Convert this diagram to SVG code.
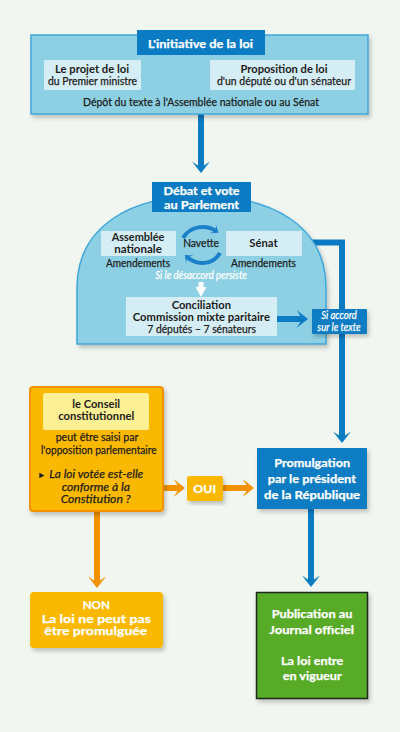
<svg xmlns="http://www.w3.org/2000/svg" width="400" height="732" viewBox="0 0 400 732">
<style>
text{font-family:Lato,"Noto Sans","Liberation Sans",sans-serif;text-anchor:middle;fill:#1d1d1b;font-size:11px;stroke:#1d1d1b;stroke-width:0.25}
.b{font-weight:bold;stroke:none}
.w{fill:#fff;stroke:#fff}
.i{font-style:italic}
.dk{fill:#0b7bc3}
.lt{fill:#d5edf5}
.sky{fill:#8dd0e3;stroke:#41a7da;stroke-width:1.5}
.gold{fill:#fbb800}
.bl{fill:none;stroke:#0b7bc3;stroke-width:6}
.or{fill:none;stroke:#f39200;stroke-width:6}
.nv{fill:none;stroke:#1a80c8;stroke-width:4}
</style>
<defs>
<filter id="sh" x="-10%" y="-10%" width="130%" height="130%">
<feDropShadow dx="2" dy="3" stdDeviation="2" flood-color="#000" flood-opacity="0.22"/>
</filter>
<marker id="ab" markerUnits="userSpaceOnUse" viewBox="-12 -10 13 20" markerWidth="13" markerHeight="20" refX="-7" refY="0" orient="auto">
<polygon points="0,0 -11.5,-9 -7.5,-3 -7.5,3 -11.5,9" fill="#0b7bc3"/>
</marker>
<marker id="ao" markerUnits="userSpaceOnUse" viewBox="-12 -10 13 20" markerWidth="13" markerHeight="20" refX="-7" refY="0" orient="auto">
<polygon points="0,0 -11.5,-9 -7.5,-3 -7.5,3 -11.5,9" fill="#f39200"/>
</marker>
<marker id="an" markerUnits="userSpaceOnUse" viewBox="-8 -6 9 12" markerWidth="9" markerHeight="12" refX="-3" refY="0" orient="auto">
<polygon points="0,0 -7,-5.5 -4.5,-2 -4.5,2 -7,5.5" fill="#1a80c8"/>
</marker>
</defs>
<rect width="400" height="732" fill="#f1f7f0"/>

<g id="connectors">
<path class="bl" d="M201 114 V166" marker-end="url(#ab)"/>
<path class="bl" d="M302 242.5 H342 V436" marker-end="url(#ab)"/>
<path class="bl" d="M311 509 V580" marker-end="url(#ab)"/>
<path class="or" d="M163 488 H178" marker-end="url(#ao)"/>
<path class="or" d="M223 488 H247" marker-end="url(#ao)"/>
<path class="or" d="M97 511 V581" marker-end="url(#ao)"/>
</g>

<g id="initiative">
<rect class="sky" x="31" y="35" width="337" height="79" filter="url(#sh)"/>
<rect class="dk" x="137" y="30" width="128" height="25"/>
<text class="w b" x="200.5" y="48" font-size="13" textLength="105" lengthAdjust="spacingAndGlyphs">L'initiative de la loi</text>
<rect class="lt" x="44" y="60" width="97" height="30" rx="1"/>
<text class="b" x="92" y="73" font-size="11.5" textLength="74" lengthAdjust="spacingAndGlyphs">Le projet de loi</text>
<text x="92.5" y="85" font-size="10.8" textLength="89" lengthAdjust="spacingAndGlyphs">du Premier ministre</text>
<rect class="lt" x="210" y="60" width="145" height="30" rx="1"/>
<text class="b" x="284" y="73" font-size="11.5" textLength="87" lengthAdjust="spacingAndGlyphs">Proposition de loi</text>
<text x="284" y="85" font-size="10.8" textLength="134" lengthAdjust="spacingAndGlyphs">d'un député ou d'un sénateur</text>
<text x="201" y="106" font-size="10.8" textLength="236" lengthAdjust="spacingAndGlyphs">Dépôt du texte à l'Assemblée nationale ou au Sénat</text>
</g>

<g id="parlement">
<path class="sky" d="M77 344 V288 C77 228 128 196 201.5 196 C275 196 326 228 326 288 V344 Z" filter="url(#sh)"/>
<rect class="dk" x="152" y="182" width="99" height="30"/>
<text class="w b" x="201.5" y="195" font-size="12.5" textLength="76" lengthAdjust="spacingAndGlyphs">Débat et vote</text>
<text class="w b" x="201.5" y="209" font-size="12.5" textLength="75" lengthAdjust="spacingAndGlyphs">au Parlement</text>
</g>

<g id="assemblee">
<rect class="lt" x="101" y="231" width="75" height="25"/>
<text class="b" x="138" y="240.5" font-size="11.3" textLength="52.6" lengthAdjust="spacingAndGlyphs">Assemblée</text>
<text class="b" x="138" y="252.5" font-size="11.3" textLength="47.7" lengthAdjust="spacingAndGlyphs">nationale</text>
<text x="138" y="267" font-size="10.8" textLength="64" lengthAdjust="spacingAndGlyphs">Amendements</text>
</g>

<g id="navette">
<path class="nv" d="M183 238 C190 226 206 224 216 231" marker-end="url(#an)"/>
<path class="nv" d="M220 253 C213 265 197 266 187 257" marker-end="url(#an)"/>
<text x="201" y="246.5" font-size="10.5" textLength="35.7" lengthAdjust="spacingAndGlyphs">Navette</text>
</g>

<g id="senat">
<rect class="lt" x="226" y="231" width="76" height="25"/>
<text class="b" x="263.5" y="246.5" font-size="11.3" textLength="28.3" lengthAdjust="spacingAndGlyphs">Sénat</text>
<text x="263.5" y="267" font-size="10.8" textLength="65" lengthAdjust="spacingAndGlyphs">Amendements</text>
</g>

<g id="desaccord">
<text class="w i" x="201" y="278.5" font-size="9.5" textLength="91.7" lengthAdjust="spacingAndGlyphs">Si le désaccord persiste</text>
<polygon points="198.5,282 203.5,282 203.5,287 206.5,287 201,297 195.5,287 198.5,287" fill="#fff"/>
</g>

<g id="conciliation">
<rect class="lt" x="126" y="297" width="151" height="39"/>
<text class="b" x="201.3" y="308.5" font-size="11.3" textLength="59.3" lengthAdjust="spacingAndGlyphs">Conciliation</text>
<text class="b" x="201.3" y="320.5" font-size="11.3" textLength="137.3" lengthAdjust="spacingAndGlyphs">Commission mixte paritaire</text>
<text x="201.6" y="332.5" font-size="10.8" textLength="108.7" lengthAdjust="spacingAndGlyphs">7 députés – 7 sénateurs</text>
<path class="bl" d="M277 319 H301" marker-end="url(#ab)"/>
</g>

<g id="accord">
<rect class="dk" x="312" y="309" width="55" height="25" rx="1" filter="url(#sh)"/>
<text class="w i" x="339" y="318.5" font-size="10" textLength="35.7" lengthAdjust="spacingAndGlyphs">Si accord</text>
<text class="w i" x="339" y="330.5" font-size="10" textLength="43.3" lengthAdjust="spacingAndGlyphs">sur le texte</text>
</g>

<g id="conseil">
<rect class="gold" x="30" y="387" width="133" height="124" rx="3" stroke="#f39200" stroke-width="2" filter="url(#sh)"/>
<rect x="43" y="393" width="106" height="37" rx="2" fill="#fdf094"/>
<text class="b" x="96.2" y="407.5" font-size="10.8" textLength="47.7" lengthAdjust="spacingAndGlyphs">le Conseil</text>
<text class="b" x="96.3" y="419.5" font-size="10.8" textLength="76" lengthAdjust="spacingAndGlyphs">constitutionnel</text>
<text x="97" y="440.5" font-size="10.8" textLength="82.7" lengthAdjust="spacingAndGlyphs">peut être saisi par</text>
<text x="98.8" y="453.5" font-size="10.8" textLength="115.7" lengthAdjust="spacingAndGlyphs">l'opposition parlementaire</text>
<polygon points="39.3,472.7 44.5,475.5 39.3,478.3" fill="#1d1d1b"/>
<text class="i" x="96.3" y="478.3" font-size="11.3" textLength="94" lengthAdjust="spacingAndGlyphs">La loi votée est-elle</text>
<text class="i" x="95.8" y="491" font-size="11.3" textLength="68.3" lengthAdjust="spacingAndGlyphs">conforme à la</text>
<text class="i" x="95.7" y="503.3" font-size="11.3" textLength="70" lengthAdjust="spacingAndGlyphs">Constitution ?</text>
</g>

<g id="oui">
<rect class="gold" x="187" y="476" width="36" height="25" rx="2" filter="url(#sh)"/>
<text class="w b" x="204.7" y="493" font-size="12.5" textLength="22.7" lengthAdjust="spacingAndGlyphs">OUI</text>
</g>

<g id="promulgation">
<rect class="dk" x="257" y="448" width="110" height="61" filter="url(#sh)"/>
<text class="w b" x="312.2" y="467.3" font-size="12.5" textLength="75.7" lengthAdjust="spacingAndGlyphs">Promulgation</text>
<text class="w b" x="311.8" y="483" font-size="12.5" textLength="88.3" lengthAdjust="spacingAndGlyphs">par le président</text>
<text class="w b" x="312" y="498.5" font-size="12.5" textLength="96" lengthAdjust="spacingAndGlyphs">de la  République</text>
</g>

<g id="non">
<rect class="gold" x="30" y="592" width="133" height="56" rx="4" filter="url(#sh)"/>
<text class="w b" x="96.3" y="609" font-size="12.5" textLength="27.3" lengthAdjust="spacingAndGlyphs">NON</text>
<text class="w b" x="96.3" y="622.7" font-size="12.5" textLength="109.3" lengthAdjust="spacingAndGlyphs">La loi ne peut pas</text>
<text class="w b" x="95.8" y="635.3" font-size="12.5" textLength="103" lengthAdjust="spacingAndGlyphs">être promulguée</text>
</g>

<g id="publication">
<rect x="256.5" y="592.5" width="111" height="106" fill="#58ab27" stroke="#1e2a1e" stroke-width="1.5" filter="url(#sh)"/>
<text class="w b" x="312" y="617.5" font-size="12" textLength="80.7" lengthAdjust="spacingAndGlyphs">Publication au</text>
<text class="w b" x="311.7" y="633.5" font-size="12" textLength="84.7" lengthAdjust="spacingAndGlyphs">Journal officiel</text>
<text class="w b" x="312.2" y="665" font-size="12" textLength="62.3" lengthAdjust="spacingAndGlyphs">La loi entre</text>
<text class="w b" x="312.2" y="680" font-size="12" textLength="59" lengthAdjust="spacingAndGlyphs">en vigueur</text>
</g>
</svg>
